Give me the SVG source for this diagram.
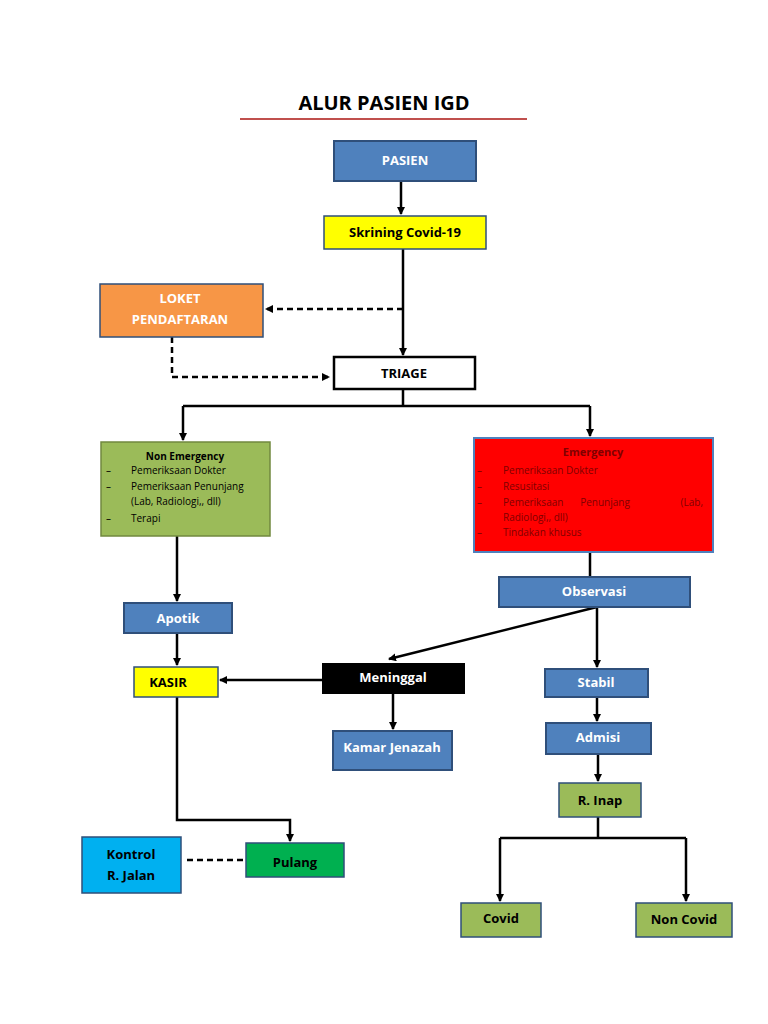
<svg xmlns="http://www.w3.org/2000/svg" width="768" height="1024" viewBox="0 0 768 1024">
<defs>
<marker id="a" markerWidth="8" markerHeight="8" refX="7" refY="4" orient="auto" markerUnits="userSpaceOnUse"><path d="M0,0 L8,4 L0,8 z" fill="#000"/></marker>
<style>
text{font-family:"Open Sans","Liberation Sans",sans-serif;font-weight:bold}
.b{fill:#4f81bd;stroke:#2f4f7a;stroke-width:2}
.w{fill:#fff;font-size:13px}
.k{fill:#000;font-size:13px}
.c line,.c path{stroke:#000;stroke-width:2.5;fill:none}
.d{stroke-dasharray:6,4}
.s{font-size:10px;font-weight:normal}
</style>
</defs>
<rect width="768" height="1024" fill="#fff"/>
<text x="384" y="110" text-anchor="middle" font-size="20" fill="#000">ALUR PASIEN IGD</text>
<line x1="240" y1="119" x2="527" y2="119" stroke="#c0504d" stroke-width="2"/>
<g class="c">
<line x1="401" y1="181" x2="401" y2="214" marker-end="url(#a)"/>
<line x1="403" y1="249" x2="403" y2="355" marker-end="url(#a)"/>
<line class="d" x1="403" y1="309" x2="266" y2="309" marker-end="url(#a)"/>
<path class="d" d="M172,337 V377 H329" marker-end="url(#a)"/>
<path d="M403,389 V406 M183,406 H590"/>
<line x1="183" y1="406" x2="183" y2="440" marker-end="url(#a)"/>
<line x1="590" y1="406" x2="590" y2="436" marker-end="url(#a)"/>
<line x1="177" y1="536" x2="177" y2="601" marker-end="url(#a)"/>
<line x1="177" y1="633" x2="177" y2="665" marker-end="url(#a)"/>
<line x1="322" y1="680" x2="220" y2="680" marker-end="url(#a)"/>
<line x1="393" y1="694" x2="393" y2="729" marker-end="url(#a)"/>
<line x1="590" y1="552" x2="590" y2="577"/>
<line x1="597" y1="607" x2="389" y2="659" marker-end="url(#a)"/>
<line x1="597" y1="607" x2="597" y2="667" marker-end="url(#a)"/>
<line x1="597" y1="697" x2="597" y2="721" marker-end="url(#a)"/>
<line x1="598" y1="754" x2="598" y2="781" marker-end="url(#a)"/>
<path d="M598,817 V838 M500,838 H686"/>
<line x1="500" y1="838" x2="500" y2="901" marker-end="url(#a)"/>
<line x1="686" y1="838" x2="686" y2="901" marker-end="url(#a)"/>
<path d="M177,697 V820 H290 V841" marker-end="url(#a)"/>
<line class="d" x1="187" y1="860" x2="243" y2="860"/>
</g>
<g id="pasien"><rect class="b" x="334" y="141" width="142" height="40"/><text class="w" x="405" y="165" text-anchor="middle" font-size="16">PASIEN</text></g>
<g id="skrining"><rect x="324" y="216" width="162" height="33" fill="#ffff00" stroke="#2f4f7a" stroke-width="1.5"/><text class="k" x="405" y="237" text-anchor="middle">Skrining Covid-19</text></g>
<g id="loket"><rect x="100" y="284" width="163" height="53" fill="#f79646" stroke="#2f4f7a" stroke-width="1.5"/><text class="w" x="180" y="303" text-anchor="middle" font-size="12">LOKET</text><text class="w" x="180" y="324" text-anchor="middle" font-size="12">PENDAFTARAN</text></g>
<g id="triage"><rect x="334" y="357" width="141" height="32" fill="#fff" stroke="#000" stroke-width="2.5"/><text class="k" x="404" y="378" text-anchor="middle">TRIAGE</text></g>
<g id="nonemergency"><rect x="101" y="442" width="169" height="94" fill="#9bbb59" stroke="#71893f" stroke-width="1.5"/>
<text x="185" y="460" text-anchor="middle" font-size="10" fill="#000">Non Emergency</text>
<g class="s" fill="#000"><text x="106" y="474" class="s">–</text><text x="131" y="474" class="s">Pemeriksaan Dokter</text>
<text x="106" y="490" class="s">–</text><text x="131" y="490" class="s">Pemeriksaan  Penunjang</text>
<text x="131" y="505" class="s">(Lab, Radiologi,, dll)</text>
<text x="106" y="522" class="s">–</text><text x="131" y="522" class="s">Terapi</text></g></g>
<g id="emergency"><rect x="474" y="438" width="239" height="114" fill="#ff0000" stroke="#4f81bd" stroke-width="2"/>
<text x="593" y="456" text-anchor="middle" font-size="11" fill="#800000">Emergency</text>
<g fill="#800000"><text x="477" y="474" class="s">–</text><text x="503" y="474" class="s">Pemeriksaan Dokter</text>
<text x="477" y="490" class="s">–</text><text x="503" y="490" class="s">Resusitasi</text>
<text x="477" y="506" class="s">–</text><text x="503" y="506" class="s">Pemeriksaan</text><text x="605" y="506" class="s" text-anchor="middle">Penunjang</text><text x="703" y="506" class="s" text-anchor="end">(Lab,</text>
<text x="503" y="521" class="s">Radiologi,, dll)</text>
<text x="477" y="536" class="s">–</text><text x="503" y="536" class="s">Tindakan khusus</text></g></g>
<g id="apotik"><rect class="b" x="124" y="603" width="108" height="30"/><text class="w" x="178" y="623" text-anchor="middle" font-size="14">Apotik</text></g>
<g id="kasir"><rect x="134" y="667" width="84" height="30" fill="#ffff00" stroke="#2f4f7a" stroke-width="1.5"/><text class="k" x="168" y="687" text-anchor="middle" font-size="14">KASIR</text></g>
<g id="meninggal"><rect x="322" y="663" width="143" height="31" fill="#000"/><text class="w" x="393" y="682" text-anchor="middle" font-size="12" font-weight="normal">Meninggal</text></g>
<g id="kamar"><rect class="b" x="333" y="731" width="119" height="39"/><text class="w" x="392" y="752" text-anchor="middle" font-size="12">Kamar Jenazah</text></g>
<g id="observasi"><rect class="b" x="499" y="577" width="191" height="30"/><text class="w" x="594" y="596" text-anchor="middle" font-size="12">Observasi</text></g>
<g id="stabil"><rect class="b" x="545" y="669" width="103" height="28"/><text class="w" x="596" y="687" text-anchor="middle" font-size="12">Stabil</text></g>
<g id="admisi"><rect class="b" x="546" y="723" width="105" height="31"/><text class="w" x="598" y="742" text-anchor="middle" font-size="12">Admisi</text></g>
<g id="rinap"><rect x="559" y="783" width="82" height="34" fill="#9bbb59" stroke="#2f4f7a" stroke-width="1.5"/><text class="k" x="600" y="805" text-anchor="middle">R. Inap</text></g>
<g id="covid"><rect x="461" y="903" width="80" height="34" fill="#9bbb59" stroke="#2f4f7a" stroke-width="1.5"/><text class="k" x="501" y="923" text-anchor="middle">Covid</text></g>
<g id="noncovid"><rect x="636" y="903" width="96" height="34" fill="#9bbb59" stroke="#2f4f7a" stroke-width="1.5"/><text class="k" x="684" y="924" text-anchor="middle">Non Covid</text></g>
<g id="pulang"><rect x="246" y="843" width="98" height="34" fill="#00b050" stroke="#2f4f7a" stroke-width="1.5"/><text class="k" x="295" y="867" text-anchor="middle" font-size="16">Pulang</text></g>
<g id="kontrol"><rect x="82" y="837" width="99" height="56" fill="#00b0f0" stroke="#2f4f7a" stroke-width="1.5"/><text class="k" x="131" y="859" text-anchor="middle" font-size="14">Kontrol</text><text class="k" x="131" y="880" text-anchor="middle" font-size="14">R. Jalan</text></g>
</svg>
